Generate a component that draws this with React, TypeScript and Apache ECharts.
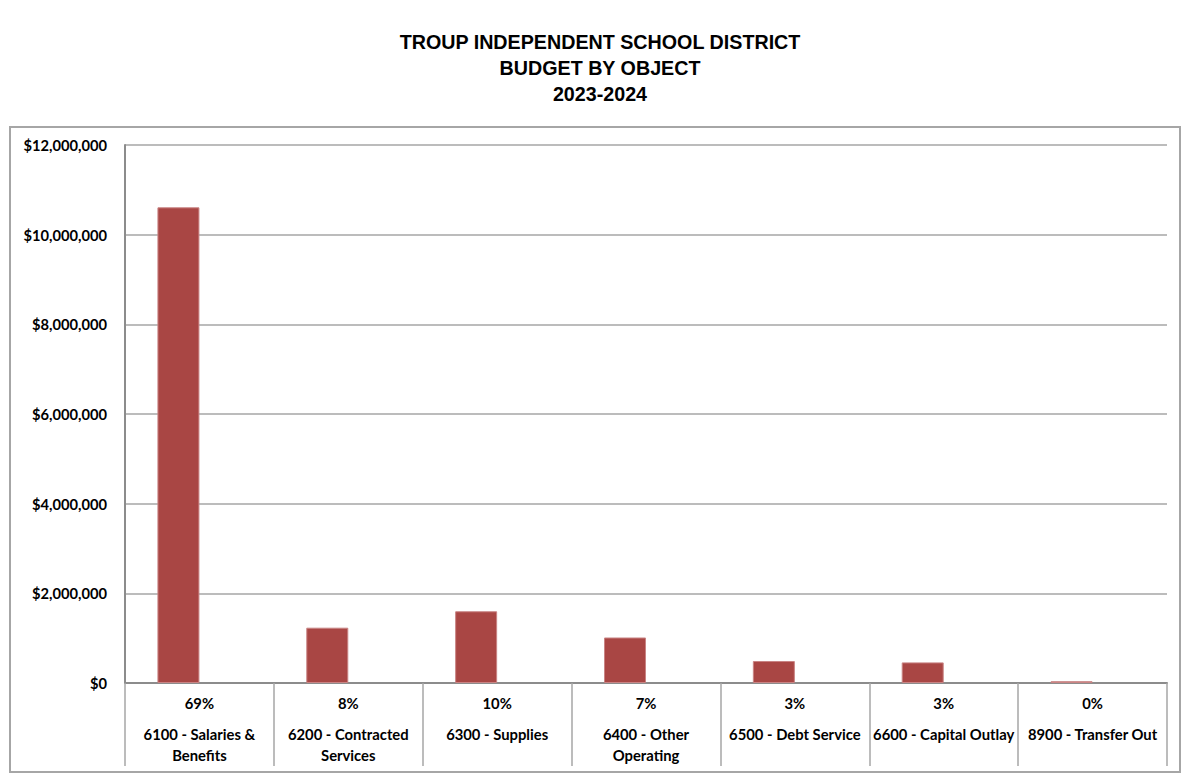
import { useEffect, useRef } from 'react';
import * as echarts from 'echarts';

const categories = [
  '6100 - Salaries &\nBenefits',
  '6200 - Contracted\nServices',
  '6300 - Supplies',
  '6400 - Other\nOperating',
  '6500 - Debt Service',
  '6600 - Capital Outlay',
  '8900 - Transfer Out',
];
const percents = ['69%', '8%', '10%', '7%', '3%', '3%', '0%'];
const amounts = [10610000, 1234000, 1600000, 1015000, 490000, 460000, 40000];

const titleLines = ['TROUP INDEPENDENT SCHOOL DISTRICT', 'BUDGET BY OBJECT', '2023-2024'];

const fmtMoney = (v: number) => '$' + v.toLocaleString('en-US');

export default function App() {
  const ref = useRef<HTMLDivElement | null>(null);

  useEffect(() => {
    document.body.style.margin = '0';
    if (!ref.current) return;
    const chart = echarts.init(ref.current, undefined, { renderer: 'svg' });

    chart.setOption({
      animation: false,
      backgroundColor: '#fff',
      title: {
        text: titleLines.join('\n'),
        left: 'center',
        top: 24,
        textStyle: {
          fontFamily: 'Liberation Sans',
          fontWeight: 'bold',
          fontSize: 19.7,
          lineHeight: 26,
          color: '#000',
        },
      },
      graphic: [
        {
          type: 'rect',
          shape: { x: 10, y: 127, width: 1170, height: 645 },
          style: { fill: 'none', stroke: '#a6a6a6', lineWidth: 2 },
          silent: true,
        },
      ],
      grid: { left: 125, right: 33, top: 145, bottom: 95 },
      xAxis: {
        type: 'category',
        data: categories,
        axisLine: { lineStyle: { color: '#8c8c8c', width: 2 } },
        axisTick: { show: true, length: 83, alignWithLabel: false, lineStyle: { color: '#a6a6a6', width: 1.5 } },
        axisLabel: {
          interval: 0,
          margin: 0,
          formatter: (v: string, i: number) =>
            `{p|${percents[i]}}\n` + v.split('\n').map((s) => `{n|${s}}`).join('\n'),
          rich: {
            p: { fontFamily: 'Lato', fontWeight: 'bold', fontSize: 14.8, lineHeight: 40, color: '#000' },
            n: { fontFamily: 'Lato', fontWeight: 'bold', fontSize: 14.8, lineHeight: 21, color: '#000' },
          },
        },
      },
      yAxis: {
        type: 'value',
        min: 0,
        max: 12000000,
        interval: 2000000,
        axisLine: { show: true, lineStyle: { color: '#8c8c8c', width: 2 } },
        axisTick: { show: false },
        splitLine: { lineStyle: { color: '#a6a6a6', width: 1.5 } },
        axisLabel: {
          margin: 18,
          formatter: (v: number) => fmtMoney(v),
          fontFamily: 'Lato',
          fontWeight: 'bold',
          fontSize: 14.7,
          color: '#000',
        },
      },
      series: [
        {
          type: 'bar',
          data: amounts,
          barWidth: 42,
          barGap: '0%',
          itemStyle: { color: '#A94644', borderColor: '#c98484', borderWidth: 1 },
        },
        {
          type: 'bar',
          data: amounts.map(() => null),
          barWidth: 42,
        },
      ],
    });

    return () => {
      chart.dispose();
    };
  }, []);

  return <div ref={ref} style={{ width: 1200, height: 778 }} />;
}
